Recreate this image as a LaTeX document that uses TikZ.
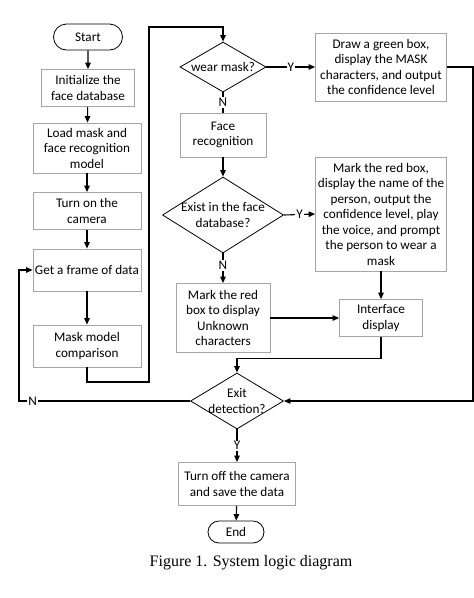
\documentclass[tikz,border=0pt]{standalone}
\usepackage{fontspec}
\newfontfamily\flowfont{Carlito}
\newfontfamily\capfont{Liberation Serif}
\usetikzlibrary{arrows.meta}
\usetikzlibrary{shapes.geometric,shapes.misc}

\begin{document}
\begin{tikzpicture}[x=1pt, y=-1pt,
			font=\flowfont\fontsize{13.2}{15.5}\selectfont,
			terminal/.style = {rounded rectangle, draw=black, line width=0.8pt, inner sep=0pt},
			proc/.style = {rectangle, draw=gray!70, line width=0.8pt, align=center, inner sep=0pt},
			decision/.style = {diamond, draw=black, line width=0.8pt, inner sep=0pt},
			dtext/.style = {align=center, inner sep=0pt},
			arr/.style = {draw=black, line width=1.1pt, -{Triangle[length=6.5pt,width=5.5pt]}},
			plain/.style = {draw=black, line width=1.1pt},
			yn/.style = {fill=white, inner sep=1pt}
		]
		\useasboundingbox (0,0) rectangle (474,598);
		% left column
		\node [terminal, minimum width=69, minimum height=26] (start) at (88,37) {Start};
		\node [proc, minimum width=93, minimum height=37] (init) at (88,88) {Initialize the\\face database};
		\node [proc, minimum width=108, minimum height=50] (load) at (87,148) {Load mask and\\face recognition\\model};
		\node [proc, minimum width=108, minimum height=37] (camera) at (87,211) {Turn on the\\camera};
		\node [proc, minimum width=108, minimum height=42] (frame) at (87,270) {Get a frame of data};
		\node [proc, minimum width=108, minimum height=42] (compare) at (87,346) {Mask model\\comparison};
		% middle column
		\node [decision, minimum width=86, minimum height=50] (wear) at (223,67) {};
		\node [dtext] (weartxt) at (wear) {wear mask?};
		\node [proc, minimum width=86, minimum height=44] (face) at (223,135) {Face\\recognition};
		\node [decision, minimum width=121, minimum height=76] (exist) at (223,215) {};
		\node [dtext] (existtxt) at (exist) {Exist in the face\\database?};
		\node [proc, minimum width=94, minimum height=69] (unknown) at (223,318) {Mark the red\\box to display\\Unknown\\characters};
		\node [decision, minimum width=93, minimum height=56] (exit) at (237,401) {};
		\node [dtext] (exittxt) at (exit) {Exit\\detection?};
		\node [proc, minimum width=117, minimum height=43] (off) at (237,484) {Turn off the camera\\and save the data};
		\node [terminal, minimum width=56, minimum height=22] (end) at (236,532) {End};
		% right column
		\node [proc, minimum width=131, minimum height=68] (green) at (381,67) {Draw a green box,\\display the MASK\\characters, and output\\the confidence level};
		\node [proc, minimum width=131, minimum height=114] (redname) at (381,214) {Mark the red box,\\display the name of the\\person, output the\\confidence level, play\\the voice, and prompt\\the person to wear a\\mask};
		\node [proc, minimum width=83, minimum height=37] (iface) at (381,318) {Interface\\display};

		\coordinate (loopbot) at (149,382);
		\coordinate (looptop) at (149,27);
		\coordinate (rightc) at (473,67);
		\coordinate (leftc) at (19,401);

		\draw [arr] (start) -- (init);
		\draw [arr] (init) -- (load);
		\draw [arr] (load) -- (camera);
		\draw [arr] (camera) -- (frame);
		\draw [arr] (frame) -- (compare);
		\draw [arr] (compare.south) |- (loopbot) -- (looptop) -| (wear.north);
		\draw [arr] (wear.east) -- node [yn] {Y} (green.west);
		\draw [plain] (wear.south) -- node [yn] {N} (face.north);
		\draw [arr] (face) -- (exist);
		\draw [arr] (exist.east) -- node [yn] {Y} (redname.west);
		\draw [arr] (exist.south) -- node [yn, pos=0.4] {N} (unknown.north);
		\draw [arr] (unknown) -- (iface);
		\draw [arr] (redname) -- (iface);
		\draw [arr] (iface.south) -- ++(0,22) -| (exit.north);
		\draw [arr] (green.east) -- (rightc) |- (exit.east);
		\draw [arr] (exit.west) -- node [yn, pos=0.92] {N} (leftc) |- (frame.west);
		\draw [arr] (exit.south) -- node [yn] {Y} (off.north);
		\draw [arr] (off) -- (end);

		\node [font=\capfont\fontsize{16}{18}\selectfont] (caption) at (251,563) {Figure 1. System logic diagram};
	\end{tikzpicture}
\end{document}
